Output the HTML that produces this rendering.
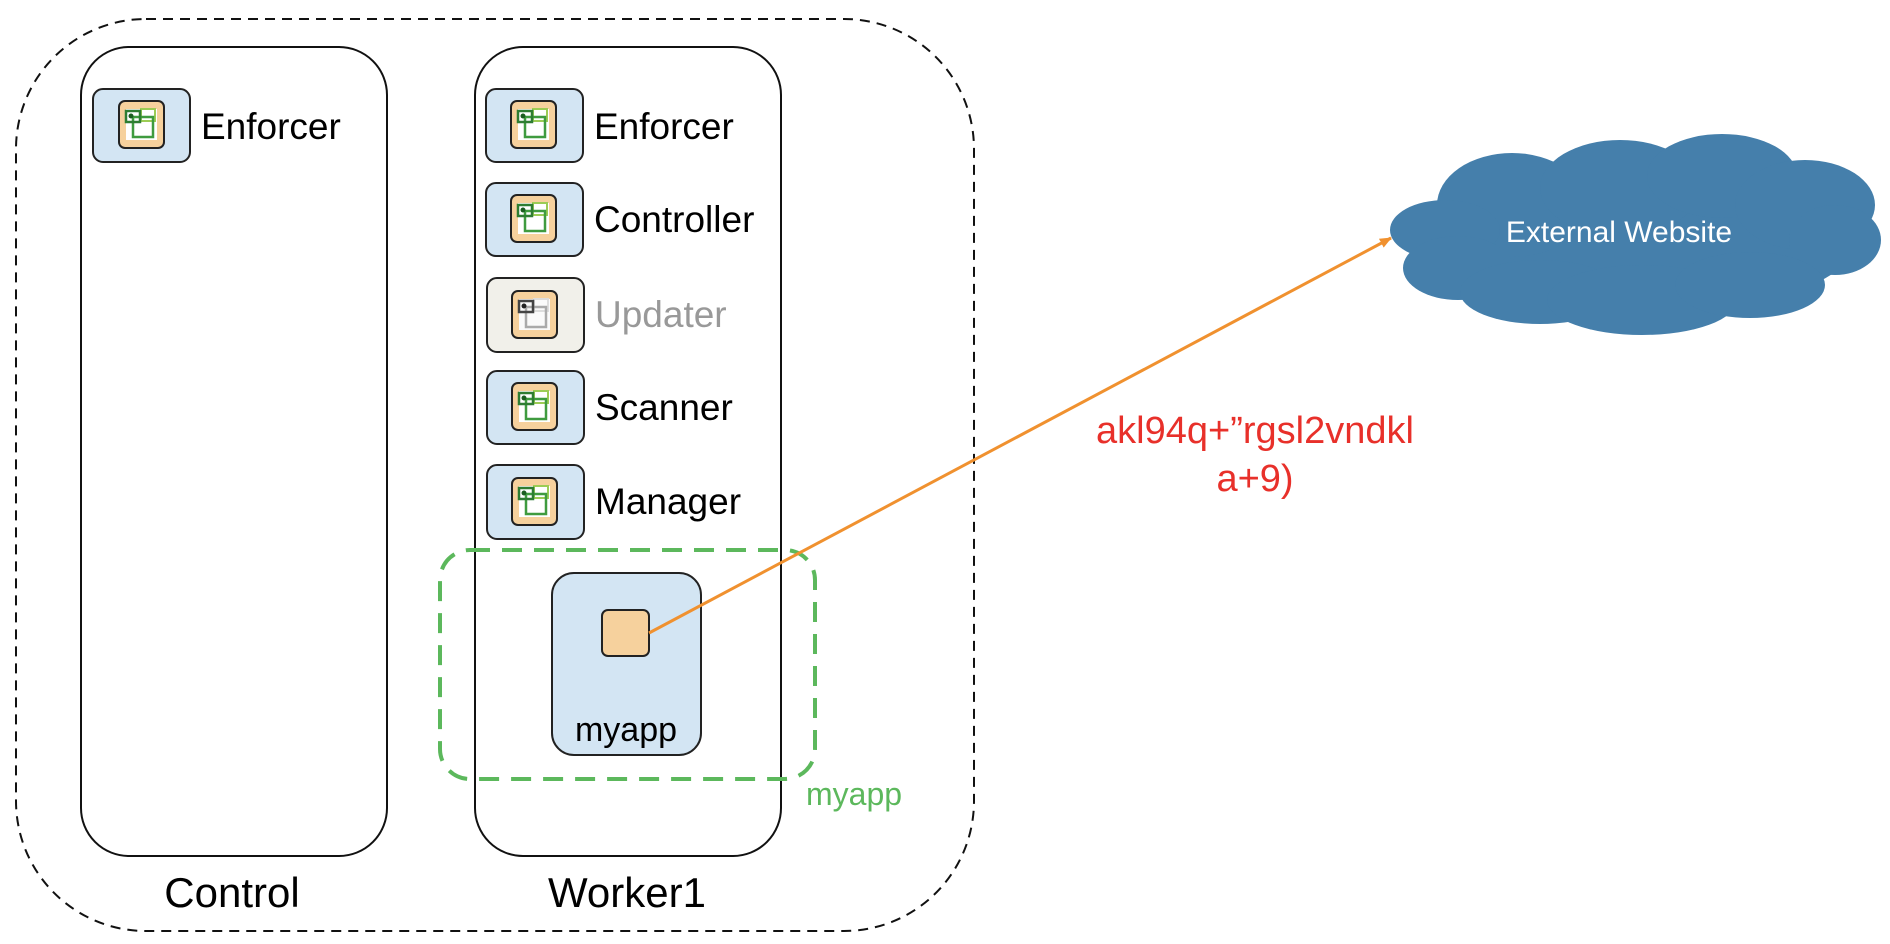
<!DOCTYPE html>
<html><head><meta charset="utf-8"><style>
html,body{margin:0;padding:0;background:#fff;}
svg{display:block;}
text{font-family:"Liberation Sans",sans-serif;}
</style></head><body>
<svg width="1890" height="944" viewBox="0 0 1890 944" xmlns="http://www.w3.org/2000/svg">
<defs>
<g id="ic">
<rect x="0" y="0" width="45" height="47" rx="6" fill="#f6d19d" stroke="#222" stroke-width="2"/>
<rect x="7" y="8" width="31" height="31" fill="#fff"/>
<rect x="22" y="8" width="14" height="12" fill="none" stroke="#9ccc55" stroke-width="2"/>
<rect x="14" y="16" width="20" height="20" fill="none" stroke="#3f9b3f" stroke-width="2.5"/>
<rect x="7" y="10" width="14" height="11" fill="none" stroke="#2e7d32" stroke-width="2.5"/>
<circle cx="12" cy="15" r="2.5" fill="#1b5e20"/>
</g>
<g id="icg">
<rect x="0" y="0" width="45" height="47" rx="6" fill="#f6d19d" stroke="#222" stroke-width="2"/>
<rect x="7" y="8" width="31" height="31" fill="#fafafa"/>
<rect x="22" y="8" width="14" height="12" fill="none" stroke="#ddd" stroke-width="2"/>
<rect x="14" y="16" width="20" height="20" fill="none" stroke="#aaa" stroke-width="2.5"/>
<rect x="7" y="10" width="14" height="11" fill="none" stroke="#444" stroke-width="2.5"/>
<circle cx="12" cy="15" r="2.5" fill="#222"/>
</g>
<marker id="ah" markerWidth="14" markerHeight="14" refX="11" refY="6" orient="auto" markerUnits="userSpaceOnUse">
<path d="M0,1 L12,6 L0,11 z" fill="#f0912f"/>
</marker>
</defs>

<rect x="16" y="19" width="958" height="912" rx="130" fill="none" stroke="#111" stroke-width="2" stroke-dasharray="10,7"/>

<rect x="81" y="47" width="306" height="809" rx="48" fill="#fff" stroke="#111" stroke-width="2"/>
<rect x="475" y="47" width="306" height="809" rx="48" fill="#fff" stroke="#111" stroke-width="2"/>

<rect x="93" y="89" width="97" height="73" rx="10" fill="#d3e5f3" stroke="#222" stroke-width="2"/>
<use href="#ic" x="119" y="101"/>
<text x="201" y="139" font-size="37">Enforcer</text>

<rect x="486" y="89" width="97" height="73" rx="10" fill="#d3e5f3" stroke="#222" stroke-width="2"/>
<use href="#ic" x="511" y="101"/>
<text x="594" y="139" font-size="37">Enforcer</text>

<rect x="486" y="183" width="97" height="73" rx="10" fill="#d3e5f3" stroke="#222" stroke-width="2"/>
<use href="#ic" x="511" y="195"/>
<text x="594" y="232" font-size="37">Controller</text>

<rect x="487" y="278" width="97" height="74" rx="10" fill="#f1f0ea" stroke="#222" stroke-width="2"/>
<use href="#icg" x="512" y="291"/>
<text x="595" y="327" font-size="37" fill="#999">Updater</text>

<rect x="487" y="371" width="97" height="73" rx="10" fill="#d3e5f3" stroke="#222" stroke-width="2"/>
<use href="#ic" x="512" y="383"/>
<text x="595" y="420" font-size="37">Scanner</text>

<rect x="487" y="465" width="97" height="74" rx="10" fill="#d3e5f3" stroke="#222" stroke-width="2"/>
<use href="#ic" x="512" y="478"/>
<text x="595" y="514" font-size="37">Manager</text>

<rect x="552" y="573" width="149" height="182" rx="22" fill="#d3e5f3" stroke="#222" stroke-width="2"/>
<rect x="602" y="610" width="47" height="46" rx="6" fill="#f6d19d" stroke="#222" stroke-width="2"/>
<text x="626" y="741" font-size="34" text-anchor="middle">myapp</text>

<rect x="440" y="550" width="375" height="229" rx="30" fill="none" stroke="#5cb85c" stroke-width="4" stroke-dasharray="20,12"/>
<text x="806" y="805" font-size="32" fill="#5cb85c">myapp</text>

<text x="232" y="907" font-size="42" text-anchor="middle">Control</text>
<text x="627" y="907" font-size="42" text-anchor="middle">Worker1</text>

<g fill="#457fab">
<ellipse cx="1636" cy="240" rx="220" ry="75"/>
<ellipse cx="1512" cy="205" rx="75" ry="52"/>
<ellipse cx="1620" cy="188" rx="80" ry="48"/>
<ellipse cx="1722" cy="176" rx="75" ry="42"/>
<ellipse cx="1805" cy="205" rx="70" ry="45"/>
<ellipse cx="1445" cy="230" rx="55" ry="30"/>
<ellipse cx="1835" cy="240" rx="46" ry="35"/>
<ellipse cx="1458" cy="268" rx="55" ry="32"/>
<ellipse cx="1540" cy="292" rx="80" ry="32"/>
<ellipse cx="1642" cy="300" rx="95" ry="35"/>
<ellipse cx="1750" cy="285" rx="75" ry="33"/>
</g>
<text x="1619" y="242" font-size="30" fill="#fff" text-anchor="middle">External Website</text>

<line x1="649" y1="633" x2="1391" y2="238" stroke="#f0912f" stroke-width="3" marker-end="url(#ah)"/>

<text x="1255" y="443" font-size="38" fill="#e8302a" text-anchor="middle">akl94q+”rgsl2vndkl</text>
<text x="1255" y="491" font-size="38" fill="#e8302a" text-anchor="middle">a+9)</text>
</svg>
</body></html>
